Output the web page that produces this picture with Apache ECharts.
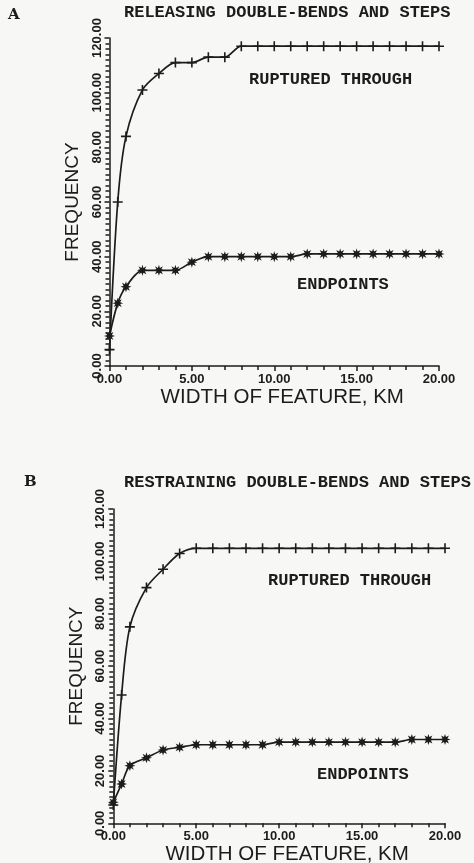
<!DOCTYPE html>
<html>
<head>
<meta charset="utf-8">
<title>Frequency vs width of feature</title>
<script src="https://cdn.jsdelivr.net/npm/echarts@6/dist/echarts.min.js"></script>
<style>
    html, body { margin: 0; padding: 0; background: #f7f7f5; }
    #chart { width: 474px; height: 863px; }
</style>
</head>
<body>
<div id="chart"></div>
<script>
// x positions of the samples (km)
let widthKm = [0, 0.5, 1, 2, 3, 4, 5, 6, 7, 8, 9, 10, 11, 12, 13, 14, 15, 16, 17, 18, 19, 20];

// A: releasing double-bends and steps
let rupturedA = [6, 60, 84, 101, 107, 111, 111, 113, 113, 117, 117, 117, 117, 117, 117, 117, 117, 117, 117, 117, 117, 117];
let endpointsA = [11, 23, 29, 35, 35, 35, 38, 40, 40, 40, 40, 40, 40, 41, 41, 41, 41, 41, 41, 41, 41, 41];

// B: restraining double-bends and steps
let rupturedB = [7, 49, 75, 90, 97, 103, 105, 105, 105, 105, 105, 105, 105, 105, 105, 105, 105, 105, 105, 105, 105, 105];
let endpointsB = [8, 15, 22, 25, 28, 29, 30, 30, 30, 30, 30, 31, 31, 31, 31, 31, 31, 31, 31, 32, 32, 32];

// axis ranges
let xMax = 20, xStep = 5;
let yMax = 120, yStep = 20;

let ink = '#1c1c1c';
let plusSymbol = 'path://M4.2,0h1.6v4.2h4.2v1.6h-4.2v4.2h-1.6v-4.2h-4.2v-1.6h4.2z';
let starSymbol = 'path://M10,5 L7.2,5.9 L8.6,8.6 L5.9,7.2 L5,10 L4.1,7.2 L1.4,8.6 L2.8,5.9 L0,5 L2.8,4.1 L1.4,1.4 L4.1,2.8 L5,0 L5.9,2.8 L8.6,1.4 L7.2,4.1 Z';

function pairs(values) {
    return widthKm.map(function (x, i) { return [x, values[i]]; });
}

function xAxisFor(gridIndex) {
    return {
        gridIndex: gridIndex,
        type: 'value',
        min: 0, max: xMax, interval: xStep,
        name: 'WIDTH OF FEATURE, KM',
        nameLocation: 'middle',
        nameGap: 18,
        nameTextStyle: { fontFamily: 'Liberation Sans', fontSize: 20.5, color: ink, padding: [0, 0, 0, 16] },
        axisLine: { lineStyle: { color: ink, width: 1.5 } },
        axisTick: { length: 5, lineStyle: { color: ink, width: 1.5 } },
        minorTick: { show: true, splitNumber: 5, length: 4, lineStyle: { color: ink, width: 1.5 } },
        splitLine: { show: false },
        axisLabel: {
            margin: 7, color: ink, fontFamily: 'Liberation Sans', fontWeight: 'bold', fontSize: 13,
            formatter: function (v) { return v.toFixed(2); }
        }
    };
}

function yAxisFor(gridIndex, gap) {
    return {
        gridIndex: gridIndex,
        type: 'value',
        min: 0, max: yMax, interval: yStep,
        name: 'FREQUENCY',
        nameLocation: 'middle',
        nameRotate: 90,
        nameGap: gap,
        nameTextStyle: { fontFamily: 'Liberation Sans', fontSize: 19, color: ink },
        axisLine: { lineStyle: { color: ink, width: 1.5 } },
        axisTick: { length: 5, lineStyle: { color: ink, width: 1.5 } },
        minorTick: { show: true, splitNumber: 10, length: 4, lineStyle: { color: ink, width: 1.5 } },
        splitLine: { show: false },
        axisLabel: {
            rotate: 90, margin: 6, color: ink, fontFamily: 'Liberation Sans', fontWeight: 'bold', fontSize: 13,
            formatter: function (v) { return v.toFixed(2); }
        }
    };
}

function lineSeries(name, values, idx, symbol, size) {
    return {
        name: name,
        type: 'line',
        xAxisIndex: idx,
        yAxisIndex: idx,
        data: pairs(values),
        smooth: 0.3,
        symbol: symbol,
        symbolSize: size,
        symbolKeepAspect: true,
        itemStyle: { color: ink },
        lineStyle: { color: ink, width: 1.7 },
        animation: false
    };
}

// free text, placed by its left edge and vertical centre
function label(text, x, y, size, font, weight) {
    return {
        type: 'text', x: x, y: y,
        style: {
            text: text, fill: ink, fontFamily: font,
            fontSize: size, fontWeight: weight || 'bold',
            align: 'left', verticalAlign: 'middle'
        }
    };
}

let chart = echarts.init(document.getElementById('chart'));
let option = {
    backgroundColor: '#f7f7f5',
    animation: false,
    grid: [
        { left: 109.5, top: 38, width: 329.5, height: 328, outerBoundsMode: 'none' },
        { left: 113.3, top: 509, width: 331.7, height: 314.3, outerBoundsMode: 'none' }
    ],
    xAxis: [xAxisFor(0), xAxisFor(1)],
    yAxis: [yAxisFor(0, 22), yAxisFor(1, 19)],
    series: [
        lineSeries('Ruptured through A', rupturedA, 0, plusSymbol, 10),
        lineSeries('Endpoints A', endpointsA, 0, starSymbol, 11),
        lineSeries('Ruptured through B', rupturedB, 1, plusSymbol, 10),
        lineSeries('Endpoints B', endpointsB, 1, starSymbol, 11)
    ],
    graphic: [
        label('A', 8, 15, 15, 'DejaVu Serif'),
        label('RELEASING DOUBLE-BENDS AND STEPS', 124, 13, 17, 'Liberation Mono'),
        label('RUPTURED THROUGH', 249, 80, 17, 'Liberation Mono'),
        label('ENDPOINTS', 297, 285, 17, 'Liberation Mono'),
        label('B', 24, 482, 15, 'DejaVu Serif'),
        label('RESTRAINING DOUBLE-BENDS AND STEPS', 124, 483, 17, 'Liberation Mono'),
        label('RUPTURED THROUGH', 268, 581, 17, 'Liberation Mono'),
        label('ENDPOINTS', 317, 775, 17, 'Liberation Mono')
    ]
};
chart.setOption(option);
</script>
</body>
</html>
